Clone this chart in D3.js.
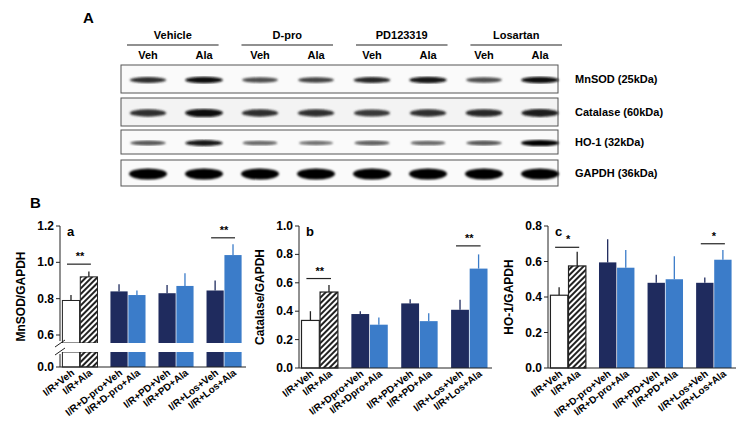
<!DOCTYPE html>
<html><head><meta charset="utf-8">
<script src="https://cdn.jsdelivr.net/npm/d3@7"></script>
<style>body{margin:0;background:#fff}text{font-family:Arial,"Liberation Sans",sans-serif}</style>
</head><body><svg id="c" width="751" height="434"></svg>
<script>
// ---- Data ----
const blotGroups = ["Vehicle","D-pro","PD123319","Losartan"];
const lanes = ["Veh","Ala","Veh","Ala","Veh","Ala","Veh","Ala"];
const proteins = ["MnSOD (25kDa)","Catalase (60kDa)","HO-1 (32kDa)","GAPDH (36kDa)"];
const bandMnSOD   = [0.75,0.95,0.6,0.65,0.8,0.9,0.6,0.95];
const bandCatalase= [0.75,0.95,0.75,0.75,0.7,0.75,0.8,0.85];
const bandHO1     = [0.55,0.9,0.45,0.4,0.5,0.45,0.55,1.0];
const bandGAPDH   = [1,1,1,1,1,1,1,1];

const catsA = ["I/R+Veh","I/R+Ala","I/R+D-pro+Veh","I/R+D-pro+Ala","I/R+PD+Veh","I/R+PD+Ala","I/R+Los+Veh","I/R+Los+Ala"];
const catsB = ["I/R+Veh","I/R+Ala","I/R+Dpro+Veh","I/R+Dpro+Ala","I/R+PD+Veh","I/R+PD+Ala","I/R+Los+Veh","I/R+Los+Ala"];
const mnsod = [0.79,0.92,0.84,0.82,0.83,0.87,0.845,1.04];
const mnsodErr = [0.03,0.03,0.04,0.025,0.045,0.07,0.055,0.06];
const catalase = [0.335,0.535,0.38,0.305,0.455,0.33,0.41,0.70];
const catalaseErr = [0.065,0.05,0.02,0.05,0.03,0.055,0.07,0.10];
const ho1 = [0.41,0.575,0.595,0.565,0.48,0.50,0.48,0.61];
const ho1Err = [0.045,0.08,0.13,0.10,0.045,0.13,0.03,0.055];
const ticksA = [0.0,0.6,0.8,1.0,1.2];
const ticksB = [0.0,0.2,0.4,0.6,0.8,1.0];
const ticksC = [0.0,0.2,0.4,0.6,0.8];

const NAVY="#1f2b5e", BLUE="#3b7cc9";
const svg=d3.select("#c");
const defs=svg.append("defs");
const pat=defs.append("pattern").attr("id","hatch").attr("patternUnits","userSpaceOnUse").attr("width",4).attr("height",4).attr("patternTransform","rotate(45)");
pat.append("rect").attr("width",4).attr("height",4).attr("fill","#fff");
pat.append("rect").attr("width",2).attr("height",4).attr("fill","#222");
defs.append("filter").attr("id","blur").append("feGaussianBlur").attr("stdDeviation",0.9);

// ---- Panel A ----
svg.append("text").attr("x",83).attr("y",23).attr("font-size",15).attr("font-weight","bold").text("A");
const lx=d3.scalePoint().domain(d3.range(8)).range([148,540]);
const gx=d3.scaleBand().domain(d3.range(4)).range([127,562]).paddingInner(0.2);
blotGroups.forEach((g,i)=>{
  const x0=gx(i), w=gx.bandwidth();
  svg.append("text").attr("x",x0+w/2).attr("y",39).attr("text-anchor","middle").attr("font-size",11).attr("font-weight","bold").text(g);
  svg.append("line").attr("x1",x0).attr("x2",x0+w).attr("y1",45).attr("y2",45).attr("stroke","#222").attr("stroke-width",1.2);
});
lanes.forEach((l,i)=>svg.append("text").attr("x",lx(i)).attr("y",59).attr("text-anchor","middle").attr("font-size",11).attr("font-weight","bold").text(l));
const rows=[{y:65,h:28,d:bandMnSOD,bh:3},{y:98,h:28,d:bandCatalase,bh:3.8},{y:130,h:24,d:bandHO1,bh:2.8},{y:160,h:26,d:bandGAPDH,bh:5}];
rows.forEach((r,ri)=>{
  svg.append("rect").attr("x",121).attr("y",r.y).attr("width",437).attr("height",r.h).attr("fill",ri==1?"#f3f3f3":"#fafafa").attr("stroke","#555");
  r.d.forEach((v,i)=>{
    svg.append("ellipse").attr("cx",lx(i)).attr("cy",r.y+r.h/2+1).attr("rx",16+v*3).attr("ry",r.bh*(0.6+v*0.5))
      .attr("fill",d3.interpolateGreys(0.4+v*0.6)).attr("filter","url(#blur)");
  });
  svg.append("text").attr("x",575).attr("y",r.y+r.h/2+4).attr("font-size",11).attr("font-weight","bold").text(proteins[ri]);
});
svg.append("text").attr("x",30).attr("y",208).attr("font-size",15).attr("font-weight","bold").text("B");

// ---- Bar panels ----
function panel(o){
  const g=svg.append("g");
  const gb=d3.scaleBand().domain(d3.range(4)).range([o.x0,o.x1]).paddingInner(0.27).paddingOuter(0.05);
  const ib=d3.scaleBand().domain([0,1]).range([0,gb.bandwidth()]).paddingInner(0.04);
  const bx=i=>gb(Math.floor(i/2))+ib(i%2);
  const bw=ib.bandwidth();
  const fill=i=>i==0?"#fff":i==1?"url(#hatch)":(i%2==0?NAVY:BLUE);
  const y=o.y; const base=o.base;
  o.vals.forEach((v,i)=>{
    const cx=bx(i)+bw/2;
    g.append("line").attr("x1",cx).attr("x2",cx).attr("y1",y(v)).attr("y2",y(v+o.err[i])).attr("stroke",i<2?"#222":(i%2==0?NAVY:BLUE)).attr("stroke-width",1.3);
    if(i<2) g.append("line").attr("x1",cx).attr("x2",cx).attr("y1",y(v)).attr("y2",y(v-o.err[i])).attr("stroke","#222").attr("stroke-width",1.3);
    if(o.brk){
      g.append("rect").attr("x",bx(i)).attr("y",y(v)).attr("width",bw).attr("height",o.brk[0]-y(v)).attr("fill",fill(i)).attr("stroke",i<2?"#222":"none");
      g.append("rect").attr("x",bx(i)).attr("y",o.brk[1]).attr("width",bw).attr("height",base-o.brk[1]).attr("fill",fill(i)).attr("stroke",i<2?"#222":"none");
    } else {
      g.append("rect").attr("x",bx(i)).attr("y",y(v)).attr("width",bw).attr("height",base-y(v)).attr("fill",fill(i)).attr("stroke",i<2?"#222":"none").attr("stroke-width",1.2);
    }
    g.append("text").attr("transform",`translate(${cx+4},${base+7}) rotate(-38)`).attr("text-anchor","end").attr("font-size",10).attr("font-weight","bold").text(o.cats[i]);
  });
  if(o.brk){
    g.append("rect").attr("x",o.x0-1).attr("y",o.brk[0]).attr("width",o.x1-o.x0+2).attr("height",o.brk[1]-o.brk[0]).attr("fill","#fff");
    g.append("line").attr("x1",o.x0).attr("x2",o.x0).attr("y1",y(1.2)).attr("y2",o.brk[0]-2).attr("stroke","#222");
    g.append("line").attr("x1",o.x0).attr("x2",o.x0).attr("y1",o.brk[1]+2).attr("y2",base).attr("stroke","#222");
    g.append("line").attr("x1",o.x0-5).attr("x2",o.x0+5).attr("y1",o.brk[0]+4).attr("y2",o.brk[0]-3).attr("stroke","#222");
    g.append("line").attr("x1",o.x0-5).attr("x2",o.x0+5).attr("y1",o.brk[1]+3).attr("y2",o.brk[1]-4).attr("stroke","#222");
  } else {
    g.append("line").attr("x1",o.x0).attr("x2",o.x0).attr("y1",y(o.ticks[o.ticks.length-1])).attr("y2",base).attr("stroke","#222");
  }
  g.append("line").attr("x1",o.x0).attr("x2",o.x1+2).attr("y1",base).attr("y2",base).attr("stroke","#222");
  o.ticks.forEach(t=>{
    const ty=t==0?base:y(t);
    g.append("line").attr("x1",o.x0-4).attr("x2",o.x0).attr("y1",ty).attr("y2",ty).attr("stroke","#222");
    g.append("text").attr("x",o.x0-6).attr("y",ty+4).attr("text-anchor","end").attr("font-size",12).attr("font-weight","bold").text(t.toFixed(1));
  });
  g.append("text").attr("transform",`translate(${o.x0-35},${(y(o.ticks[o.ticks.length-1])+base)/2}) rotate(-90)`).attr("text-anchor","middle").attr("font-size",12).attr("font-weight","bold").text(o.title);
  g.append("text").attr("x",o.x0+7).attr("y",y(o.ticks[o.ticks.length-1])+10).attr("font-size",13).attr("font-weight","bold").text(o.letter);
  o.sig.forEach(s=>{
    const a=bx(s.i)+bw/2, b=bx(s.i+1)+bw/2, ly=y(s.v);
    g.append("line").attr("x1",a-4).attr("x2",b+2).attr("y1",ly).attr("y2",ly).attr("stroke","#222").attr("stroke-width",1.2);
    g.append("text").attr("x",(a+b)/2).attr("y",ly-4).attr("text-anchor","middle").attr("font-size",11).attr("font-weight","bold").text(s.t);
  });
}
panel({x0:60,x1:244,base:367,brk:[343,352],y:d3.scaleLinear().domain([0.6,1.2]).range([335,226]),
  vals:mnsod,err:mnsodErr,cats:catsA,ticks:ticksA,title:"MnSOD/GAPDH",letter:"a",
  sig:[{i:0,v:0.99,t:"**"},{i:6,v:1.135,t:"**"}]});
panel({x0:299,x1:490,base:368,y:d3.scaleLinear().domain([0,1]).range([368,226]),
  vals:catalase,err:catalaseErr,cats:catsB,ticks:ticksB,title:"Catalase/GAPDH",letter:"b",
  sig:[{i:0,v:0.63,t:"**"},{i:6,v:0.86,t:"**"}]});
panel({x0:548,x1:734,base:368,y:d3.scaleLinear().domain([0,0.8]).range([368,226]),
  vals:ho1,err:ho1Err,cats:catsA,ticks:ticksC,title:"HO-1/GAPDH",letter:"c",
  sig:[{i:0,v:0.68,t:"*"},{i:6,v:0.70,t:"*"}]});
</script></body></html>
